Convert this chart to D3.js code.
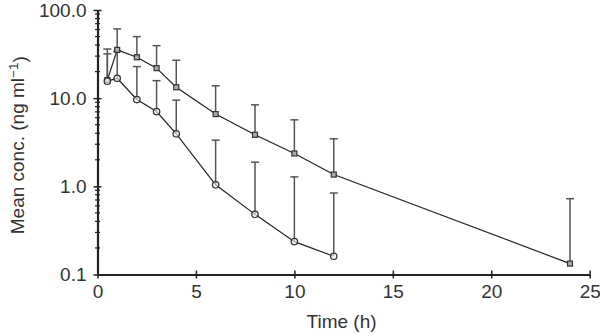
<!DOCTYPE html>
<html>
<head>
<meta charset="utf-8">
<script src="https://cdn.jsdelivr.net/npm/d3@7"></script>
<style>
  body { margin: 0; background: #fff; }
  svg { display: block; font-family: "Liberation Sans", Arial, sans-serif; }
  .tick text { font-size: 19px; fill: #333; }
</style>
</head>
<body>
<div id="chart"></div>
<script>
/* Mean plasma concentration vs time, log scale, two groups. */

const width = 600,
    height = 334,
    margin = ({ top: 10, right: 10, bottom: 60, left: 97.5 });

// square markers (upper curve)
const squareTimes = [0.5, 1, 2, 3, 4, 6, 8, 10, 12, 24];
const squareMean = [16.0, 35.3, 29.1, 21.9, 13.3, 6.6, 3.84, 2.36, 1.36, 0.133];
const squareUpper = [36.1, 61, 49.9, 39.4, 26.9, 13.8, 8.4, 5.68, 3.46, 0.724];

// circle markers (lower curve)
const circleTimes = [0.5, 1, 2, 3, 4, 6, 8, 10, 12];
const circleMean = [15.6, 16.8, 9.65, 7.05, 3.94, 1.04, 0.481, 0.236, 0.161];
const circleUpper = [31.8, 34, 22.8, 15.8, 9.5, 3.34, 1.88, 1.28, 0.84];

const xTicks = [0, 5, 10, 15, 20, 25];
const yTicks = [0.1, 1, 10, 100];
const yTickLabels = ["0.1", "1.0", "10.0", "100.0"];

const svg = d3.select("#chart")
    .append("svg")
    .attr("width", width)
    .attr("height", height)
    .attr("viewBox", [0, 0, width, height]);

let x = d3.scaleLinear()
    .domain([0, 25])
    .range([margin.left, 589.7]);

let y = d3.scaleLog()
    .domain([0.1, 100])
    .range([274.5, margin.top]);

// minor log ticks
let minor = [];
for (let dec of [0.1, 1, 10]) {
    for (let k = 2; k <= 9; k++) minor.push(dec * k);
}

const axisColor = "#222";

// y minor ticks (both sides of axis)
svg.append("g")
    .selectAll("line")
    .data(minor)
    .join("line")
    .attr("x1", x(0) - 2.5)
    .attr("x2", x(0) + 2.5)
    .attr("y1", d => y(d))
    .attr("y2", d => y(d))
    .attr("stroke", axisColor)
    .attr("stroke-width", 1.2);

let yAxis = svg.append("g")
    .attr("transform", `translate(${x(0)},0)`)
    .call(d3.axisLeft(y)
        .tickValues(yTicks)
        .tickFormat((d, i) => yTickLabels[i])
        .tickSizeInner(4)
        .tickSizeOuter(0)
        .tickPadding(6));
yAxis.select(".domain").attr("stroke", axisColor).attr("stroke-width", 2.2);
yAxis.selectAll(".tick line").attr("x2", -4).attr("x1", 4).attr("stroke", axisColor).attr("stroke-width", 1.5);
yAxis.selectAll(".tick text").attr("x", -11);

let xAxis = svg.append("g")
    .attr("transform", `translate(0,${y(0.1)})`)
    .call(d3.axisBottom(x)
        .tickValues(xTicks)
        .tickSizeInner(4)
        .tickSizeOuter(0)
        .tickPadding(4));
xAxis.select(".domain").attr("stroke", axisColor).attr("stroke-width", 2.2);
xAxis.selectAll(".tick line").attr("y1", -4).attr("y2", 4).attr("stroke", axisColor).attr("stroke-width", 1.5);
xAxis.selectAll(".tick text").attr("y", 10);

// axis titles
svg.append("text")
    .attr("text-anchor", "middle")
    .attr("x", (x(0) + x(25)) / 2 - 2)
    .attr("y", 328)
    .attr("font-size", "19px")
    .attr("fill", "#333")
    .text("Time (h)");

let yl = svg.append("text")
    .attr("text-anchor", "middle")
    .attr("transform", `translate(24,${(y(0.1) + y(100)) / 2 + 3}) rotate(-90)`)
    .attr("font-size", "19px")
    .attr("fill", "#333");
yl.append("tspan").text("Mean conc. (ng ml");
yl.append("tspan").attr("dy", "-0.45em").attr("font-size", "13.5px").text("\u22121");
yl.append("tspan").attr("dy", "0.45em").text(")");

const squares = squareTimes.map((t, i) => ({ t, m: squareMean[i], u: squareUpper[i] }));
const circles = circleTimes.map((t, i) => ({ t, m: circleMean[i], u: circleUpper[i] }));

function drawErrors(data) {
    let g = svg.append("g")
        .attr("stroke", "#555")
        .attr("stroke-width", 1.5);
    g.selectAll(".bar")
        .data(data)
        .join("line")
        .attr("x1", d => x(d.t))
        .attr("x2", d => x(d.t))
        .attr("y1", d => y(d.m))
        .attr("y2", d => y(d.u));
    g.selectAll(".cap")
        .data(data)
        .join("line")
        .attr("x1", d => x(d.t) - 4)
        .attr("x2", d => x(d.t) + 4)
        .attr("y1", d => y(d.u))
        .attr("y2", d => y(d.u));
}

drawErrors(circles);
drawErrors(squares);

let line = d3.line()
    .x(d => x(d.t))
    .y(d => y(d.m));

for (let data of [squares, circles]) {
    svg.append("path")
        .datum(data)
        .attr("d", line)
        .attr("fill", "none")
        .attr("stroke", "#222")
        .attr("stroke-width", 1.2);
}

// markers
svg.append("g")
    .selectAll("rect")
    .data(squares)
    .join("rect")
    .attr("x", d => x(d.t) - 2.5)
    .attr("y", d => y(d.m) - 2.5)
    .attr("width", 5)
    .attr("height", 5)
    .attr("fill", "#aaa")
    .attr("stroke", "#333")
    .attr("stroke-width", 1.2);

svg.append("g")
    .selectAll("circle")
    .data(circles)
    .join("circle")
    .attr("cx", d => x(d.t))
    .attr("cy", d => y(d.m))
    .attr("r", 3.2)
    .attr("fill", "#fff")
    .attr("fill-opacity", 0.6)
    .attr("stroke", "#333")
    .attr("stroke-width", 1.3);
</script>
</body>
</html>
